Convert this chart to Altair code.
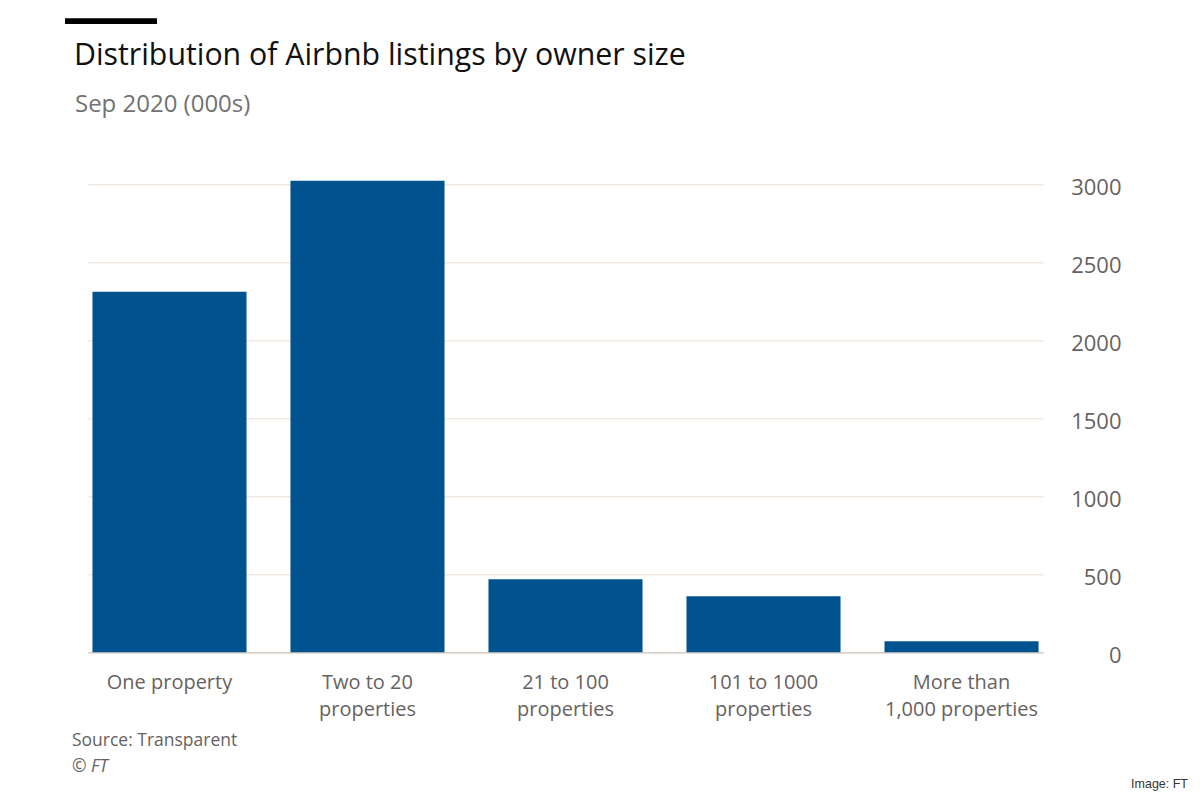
import altair as alt
import pandas as pd

categories = ["One property", "Two to 20 properties", "21 to 100 properties",
              "101 to 1000 properties", "More than 1,000 properties"]
label_lines = ["One property", "Two to 20\nproperties", "21 to 100\nproperties",
               "101 to 1000\nproperties", "More than\n1,000 properties"]
values = [2312, 3023, 468, 360, 71]
y_ticks = [0, 500, 1000, 1500, 2000, 2500, 3000]

title_text = "Distribution of Airbnb listings by owner size"
subtitle_text = "Sep 2020 (000s)"
source_text = "Source: Transparent"
credit_text = "Image: FT"

df = pd.DataFrame({"category": categories, "value": values, "label": label_lines})

FONT = "Open Sans"
GREY = "#67625f"

label_expr = " : ".join(
    f"datum.label == '{c}' ? split('{l}', '|')" for c, l in
    zip(categories, [s.replace("\n", "|") for s in label_lines])
) + " : datum.label"

bars = alt.Chart(df).mark_bar(color="#01538f").encode(
    x=alt.X("category:N", sort=categories,
            scale=alt.Scale(paddingInner=0.222, paddingOuter=0.0225),
            axis=alt.Axis(title=None, labelAngle=0, ticks=False, domain=True,
                          domainColor="#d6cdc6", domainWidth=1.5, grid=False,
                          labelFont=FONT, labelFontSize=20, labelColor=GREY,
                          labelPadding=20, labelLineHeight=27, labelBaseline="top",
                          labelExpr=label_expr)),
    y=alt.Y("value:Q", scale=alt.Scale(domain=[0, 3000], nice=False),
            axis=alt.Axis(title=None, orient="right", values=y_ticks, grid=True,
                          format="d",
                          gridColor="#f2e8e2", gridWidth=1.5, ticks=False,
                          domain=False, labelFont=FONT, labelFontSize=22,
                          labelColor=GREY, labelAlign="right", labelPadding=78,
                          labelBaseline="middle", labelOffset=3.5)),
)

def txt(t, x, y, size, color, align="left", font=FONT, style="normal"):
    return alt.Chart(pd.DataFrame({"t": [t]})).mark_text(
        align=align, baseline="alphabetic", font=font, fontSize=size,
        color=color, fontStyle=style
    ).encode(x=alt.value(x), y=alt.value(y), text="t:N")

topbar = alt.Chart(pd.DataFrame({"a": [0]})).mark_rule(
    color="#000000", strokeWidth=5.7, strokeCap="butt"
).encode(x=alt.value(-23), x2=alt.value(69), y=alt.value(-163.1))

chart = alt.layer(
    bars,
    topbar,
    txt(title_text, -14, -119.3, 30.3, "#111111"),
    txt(subtitle_text, -13, -72.6, 24, "#727272"),
    txt(source_text, -16, 561.7, 17.5, GREY),
    txt("©", -16, 587.7, 17.5, GREY),
    txt("FT", 3, 587.7, 17.5, GREY, style="italic"),
    txt(credit_text, 1100, 604, 12.5, "#333333", align="right", font="Liberation Sans"),
).properties(
    width=955, height=468,
    autosize=alt.AutoSizeParams(type="none"),
    padding={"left": 80, "top": 176.3, "right": 148, "bottom": 139},
    background="#ffffff",
).configure_view(stroke=None)

chart.save("out.html", embed_options={"renderer": "svg", "actions": False})
